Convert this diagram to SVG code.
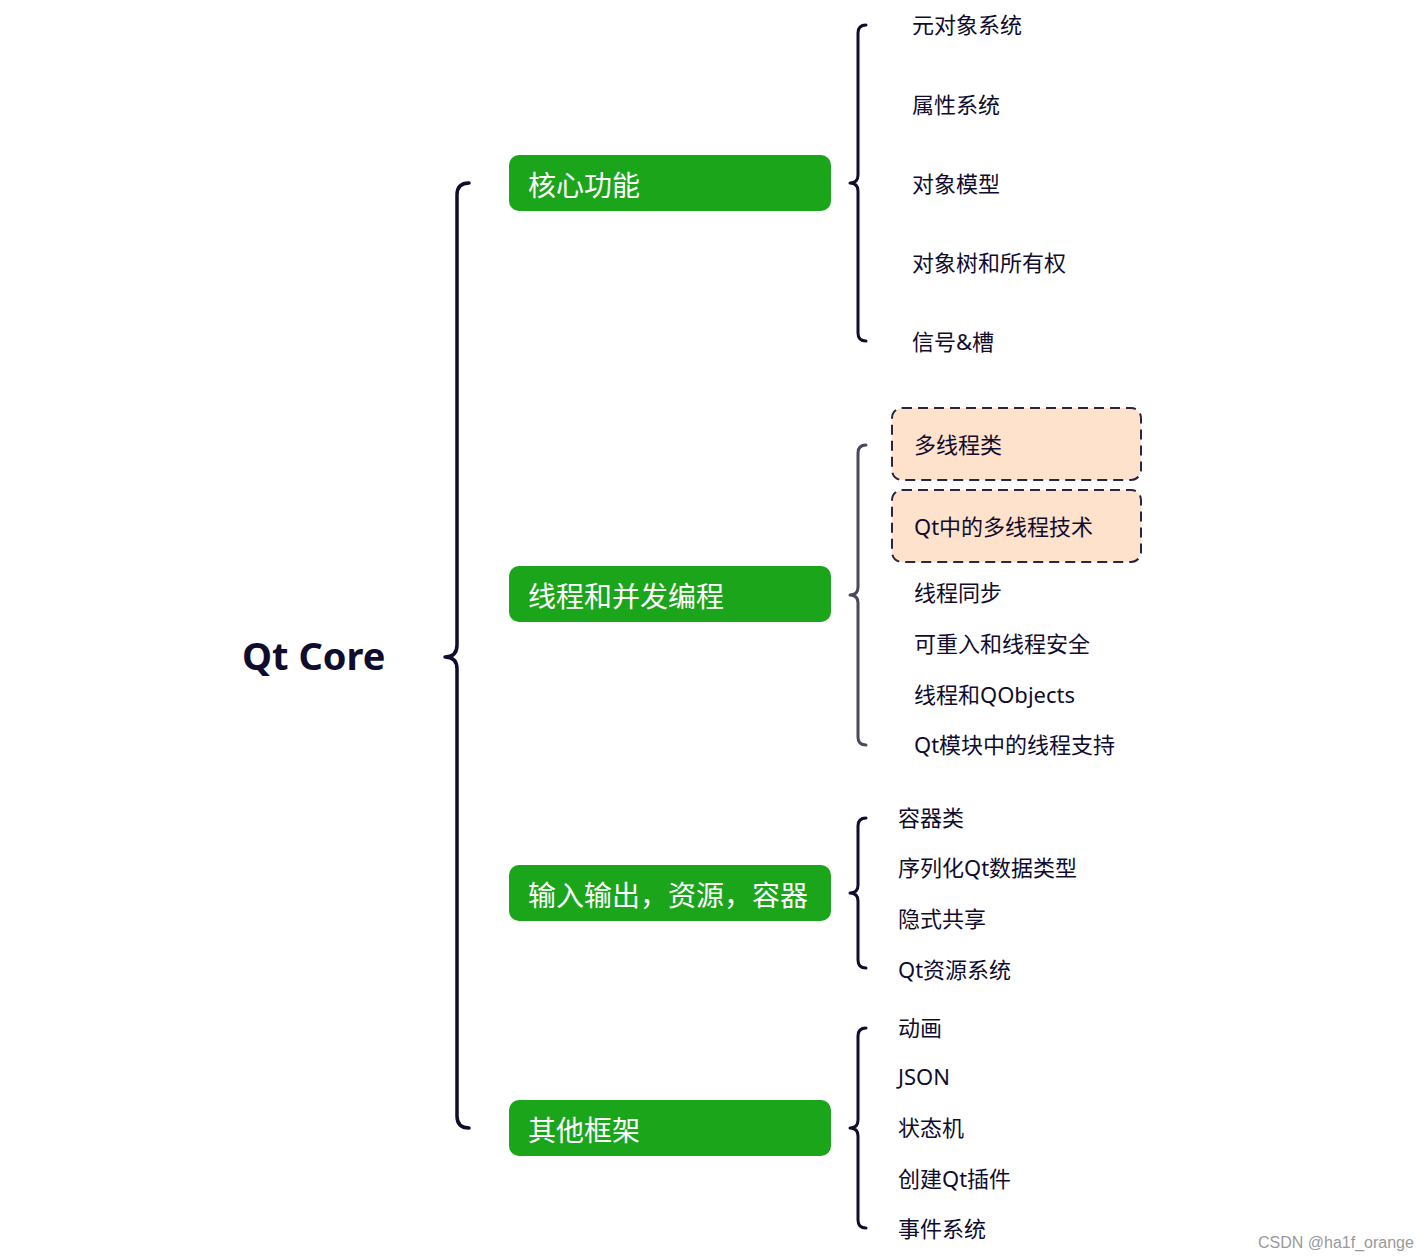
<svg xmlns="http://www.w3.org/2000/svg" width="1428" height="1260" viewBox="0 0 1428 1260">
<style>
.brace{fill:none;stroke:#0f0c2e;stroke-width:3;stroke-linecap:round;stroke-linejoin:round}
.brace.main{stroke-width:3.5}
.brace.grey{stroke:#4a4760}
.gbox{fill:#1aa51a}
.gtxt{font-family:"Noto Sans","Noto Sans CJK SC",sans-serif;font-size:28px;fill:#ffffff}
.item{font-family:"Noto Sans","Noto Sans CJK SC",sans-serif;font-size:22px;fill:#0f0c2e}
.dbox{fill:#fee2cc;stroke:#2a2540;stroke-width:2;stroke-dasharray:10 6}
.root{font-family:"Noto Sans","Noto Sans CJK SC",sans-serif;font-size:38px;font-weight:bold;fill:#0f0c2e}
.wm{font-family:"Liberation Sans",sans-serif;font-size:16px;fill:#999999}
</style>
<rect width="1428" height="1260" fill="#ffffff"/>
<g id="connectors">
<path class="brace main" d="M469,183 Q457,183 457,195 L457,645 Q457,657 445,657 Q457,657 457,669 L457,1116 Q457,1128 469,1128"/>
<path class="brace" d="M866,25 Q858,25 858,33 L858,175 Q858,183 850,183 Q858,183 858,191 L858,333 Q858,341 866,341"/>
<path class="brace grey" d="M866,445 Q858,445 858,453 L858,587 Q858,595 850,595 Q858,595 858,603 L858,737 Q858,745 866,745"/>
<path class="brace" d="M866,818 Q858,818 858,826 L858,885 Q858,893 850,893 Q858,893 858,901 L858,960 Q858,968 866,968"/>
<path class="brace" d="M866,1028 Q858,1028 858,1036 L858,1120 Q858,1128 850,1128 Q858,1128 858,1136 L858,1220 Q858,1228 866,1228"/>
</g>
<g id="root"><text class="root" x="242" y="670">Qt Core</text></g>
<g id="core"><rect class="gbox" x="509" y="155" width="322" height="56" rx="10"/><text class="gtxt" x="528" y="196">核心功能</text></g>
<g id="thread"><rect class="gbox" x="509" y="566" width="322" height="56" rx="10"/><text class="gtxt" x="528" y="607">线程和并发编程</text></g>
<g id="io"><rect class="gbox" x="509" y="865" width="322" height="56" rx="10"/><text class="gtxt" x="528" y="906">输入输出，资源，容器</text></g>
<g id="other"><rect class="gbox" x="509" y="1100" width="322" height="56" rx="10"/><text class="gtxt" x="528" y="1141">其他框架</text></g>
<g id="core-items">
<g id="i1"><text class="item" x="912" y="33">元对象系统</text></g>
<g id="i2"><text class="item" x="912" y="113">属性系统</text></g>
<g id="i3"><text class="item" x="912" y="192">对象模型</text></g>
<g id="i4"><text class="item" x="912" y="271">对象树和所有权</text></g>
<g id="i5"><text class="item" x="912" y="350">信号&amp;槽</text></g>
</g>
<g id="thread-items">
<g id="t1"><rect class="dbox" x="892" y="408" width="249" height="72" rx="10"/><text class="item" x="914" y="453">多线程类</text></g>
<g id="t2"><rect class="dbox" x="892" y="490" width="249" height="72" rx="10"/><text class="item" x="914" y="535">Qt中的多线程技术</text></g>
<g id="t3"><text class="item" x="914" y="601">线程同步</text></g>
<g id="t4"><text class="item" x="914" y="652">可重入和线程安全</text></g>
<g id="t5"><text class="item" x="914" y="703">线程和QObjects</text></g>
<g id="t6"><text class="item" x="914" y="753">Qt模块中的线程支持</text></g>
</g>
<g id="io-items">
<g id="o1"><text class="item" x="898" y="826">容器类</text></g>
<g id="o2"><text class="item" x="898" y="876">序列化Qt数据类型</text></g>
<g id="o3"><text class="item" x="898" y="927">隐式共享</text></g>
<g id="o4"><text class="item" x="898" y="978">Qt资源系统</text></g>
</g>
<g id="other-items">
<g id="f1"><text class="item" x="898" y="1036">动画</text></g>
<g id="f2"><text class="item" x="898" y="1085">JSON</text></g>
<g id="f3"><text class="item" x="898" y="1136">状态机</text></g>
<g id="f4"><text class="item" x="898" y="1187">创建Qt插件</text></g>
<g id="f5"><text class="item" x="898" y="1237">事件系统</text></g>
</g>
<text class="wm" x="1258" y="1248">CSDN @ha1f_orange</text>
</svg>
